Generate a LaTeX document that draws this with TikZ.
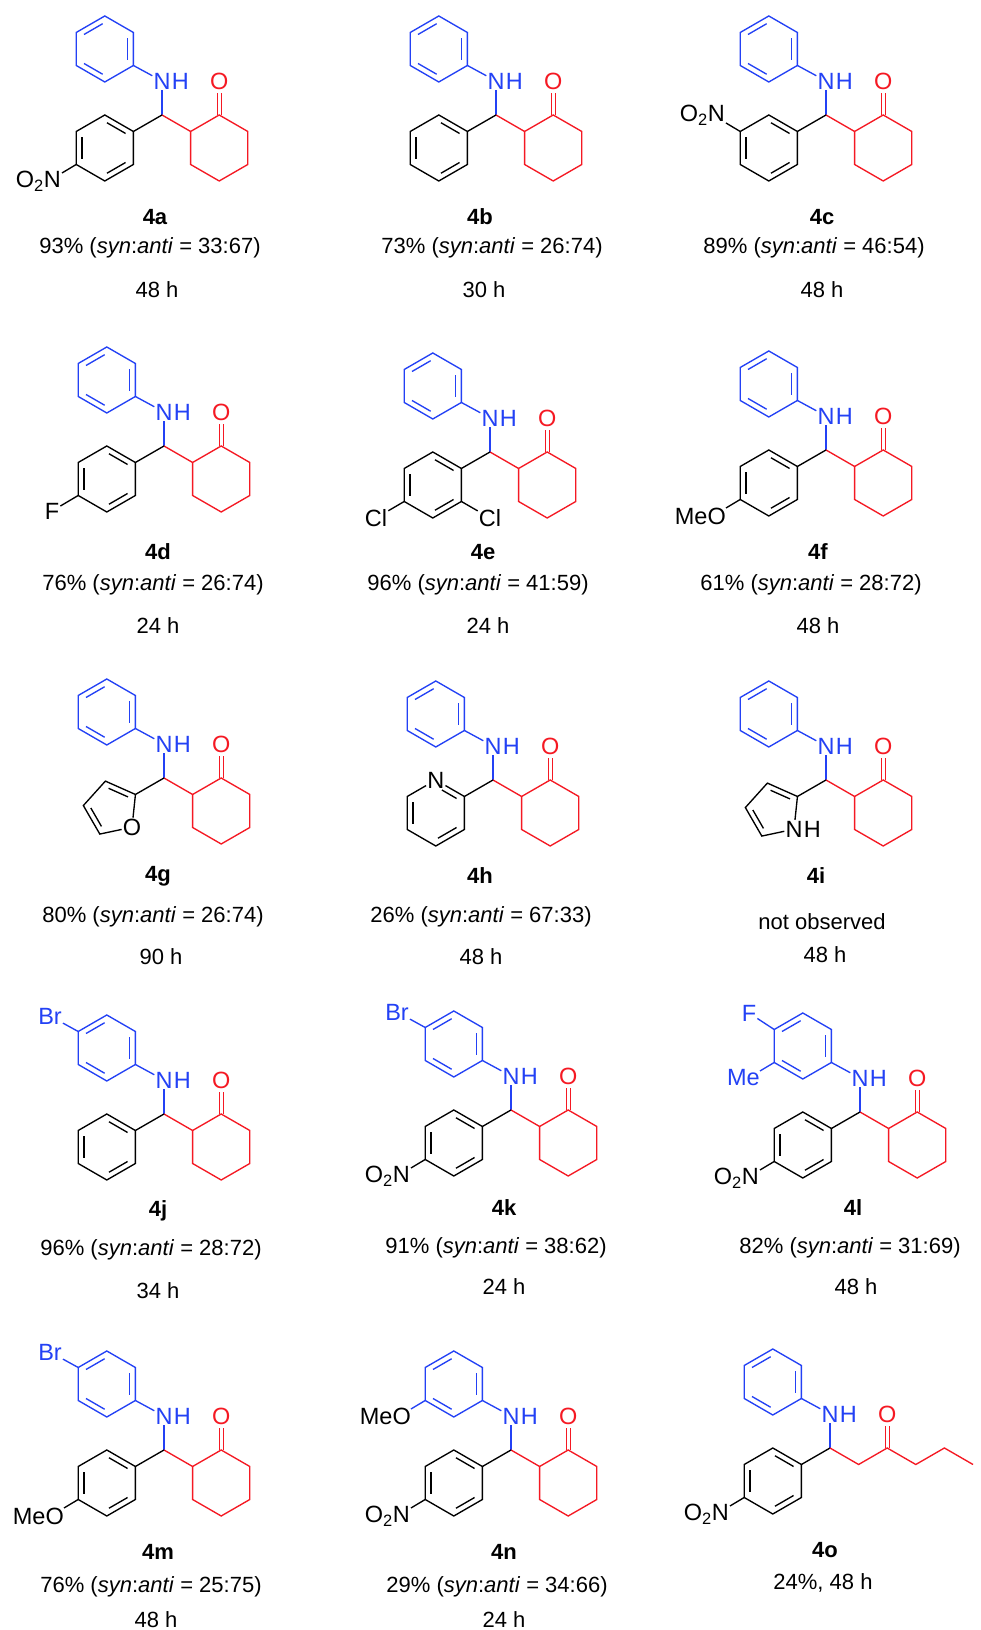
\documentclass[tikz,border=0pt]{standalone}
\usepackage{fontspec}
\setmainfont{Liberation Sans}
\usetikzlibrary{calc}
\definecolor{blu}{RGB}{35,65,245}
\definecolor{rd}{RGB}{245,25,35}
\tikzset{
 bond/.style={line width=1.35pt},
 atom/.style={font=\fontsize{23.5}{24}\selectfont,inner sep=1pt},
 txt/.style={font=\fontsize{22}{22}\selectfont,inner sep=0pt},
 lbl/.style={font=\fontsize{22}{22}\selectfont\bfseries,inner sep=0pt}
}
\newcommand\hexR[3]{%
 \begin{scope}[shift={#1}]
 \draw[bond,#2] (30:33)--(90:33)--(150:33)--(210:33)--(270:33)--(330:33)--cycle;
 \foreach \k in {#3}{\draw[bond,#2,shorten <=2.5pt,shorten >=2.5pt] ({30+60*\k}:26.5)--({90+60*\k}:26.5);}
 \end{scope}}
\newcommand\anil[1]{%
 \node[atom,text=blu] (#1N) at (0,34) {N};
 \node[atom,text=blu,anchor=west,inner sep=0pt] (#1H) at (#1N.east) {H};
 \draw[bond,blu] (0,0)--(#1N);
 \draw[bond,blu] (#1N)--(-28.6,49.5);
 \hexR{(-57.2,66)}{blu}{1,3,5}}
\newcommand\ketone[1]{%
 \draw[bond,rd] (0,0)--(28.6,-16.5);
 \draw[bond,rd] (57.2,0)--(85.8,-16.5)--(85.8,-49.5)--(57.2,-66)--(28.6,-49.5)--(28.6,-16.5)--cycle;
 \node[atom,text=rd] (#1O) at (57.2,34) {O};
 \draw[bond,rd] (55.2,0)--(55.2,21.5) (59.2,0)--(59.2,21.5);}
\newcommand\aryl{%
 \draw[bond] (0,0)--(-28.6,-16.5);
 \hexR{(-57.2,-33)}{black}{0,2,4}}
\newcommand\pnitro[1]{%
 \node[atom,anchor=east] (#1NO) at (-100,-66) {O\textsubscript{2}N};
 \draw[bond] (-85.8,-49.5)--(-100,-58);}
\newcommand\pbr[1]{%
 \node[atom,text=blu] (#1Br) at (-114,98) {Br};
 \draw[bond,blu] (-85.8,82.5)--(#1Br);}
\begin{document}
\begin{tikzpicture}[x=1pt,y=1pt]
\useasboundingbox (0,0) rectangle (980,1630);
\fill[white] (0,0) rectangle (980,1630);
% 4a
\begin{scope}[shift={(162,1515)}]
 \anil{a}\ketone{a}\aryl\pnitro{a}
\end{scope}
% 4b
\begin{scope}[shift={(496,1515)}]
 \anil{b}\ketone{b}\aryl
\end{scope}
% 4c
\begin{scope}[shift={(826,1515)}]
 \anil{c}\ketone{c}\aryl
 \node[atom,anchor=east] (cNO) at (-100,0) {O\textsubscript{2}N};
 \draw[bond] (-85.8,-16.5)--(-100,-8);
\end{scope}
% 4d
\begin{scope}[shift={(164,1184)}]
 \anil{d}\ketone{d}\aryl
 \node[atom] (dF) at (-112,-65) {F};
 \draw[bond] (-85.8,-49.5)--(dF);
\end{scope}
% 4e
\begin{scope}[shift={(490,1178)}]
 \anil{e}\ketone{e}\aryl
 \node[atom] (eCla) at (-114,-66) {Cl};
 \draw[bond] (-85.8,-49.5)--(eCla);
 \node[atom] (eClb) at (0,-66) {Cl};
 \draw[bond] (-28.6,-49.5)--(eClb);
\end{scope}
% 4f
\begin{scope}[shift={(826,1180)}]
 \anil{f}\ketone{f}\aryl
 \node[atom,anchor=east] (fOMe) at (-99,-66) {MeO};
 \draw[bond] (-85.8,-49.5)--(-100,-58);
\end{scope}
% 4g furan
\begin{scope}[shift={(164,852)}]
 \anil{g}\ketone{g}
 \draw[bond] (0,0)--(-28.6,-16.5);
 \begin{scope}[shift={(-52.8,-30.5)}]
  \node[atom] (gO) at (318:28) {O};
  \draw[bond] (gO)--(30:28)--(102:28)--(174:28)--(246:28)--(gO);
  \draw[bond,shorten <=2pt,shorten >=2pt] (30:21.5)--(102:21.5);
  \draw[bond,shorten <=2pt,shorten >=2pt] (174:21.5)--(246:21.5);
 \end{scope}
\end{scope}
% 4h pyridine
\begin{scope}[shift={(493,850)}]
 \anil{h}\ketone{h}
 \draw[bond] (0,0)--(-28.6,-16.5);
 \begin{scope}[shift={(-57.2,-33)}]
  \node[atom] (hNp) at (90:33) {N};
  \draw[bond] (hNp)--(30:33)--(330:33)--(270:33)--(210:33)--(150:33)--(hNp);
  \draw[bond,shorten <=2.5pt,shorten >=7pt] (30:26.5)--(90:26.5);
  \draw[bond,shorten <=2.5pt,shorten >=2.5pt] (150:26.5)--(210:26.5);
  \draw[bond,shorten <=2.5pt,shorten >=2.5pt] (270:26.5)--(330:26.5);
 \end{scope}
\end{scope}
% 4i pyrrole
\begin{scope}[shift={(826,850)}]
 \anil{i}\ketone{i}
 \draw[bond] (0,0)--(-28.6,-16.5);
 \begin{scope}[shift={(-52.8,-30.5)}]
  \node[atom] (iNp) at (318:28) {N};
  \node[atom,anchor=west,inner sep=0pt] (iHp) at (iNp.east) {H};
  \draw[bond] (iNp)--(30:28)--(102:28)--(174:28)--(246:28)--(iNp);
  \draw[bond,shorten <=2pt,shorten >=2pt] (30:21.5)--(102:21.5);
  \draw[bond,shorten <=2pt,shorten >=2pt] (174:21.5)--(246:21.5);
 \end{scope}
\end{scope}
% 4j
\begin{scope}[shift={(164,516)}]
 \anil{j}\ketone{j}\aryl\pbr{j}
\end{scope}
% 4k
\begin{scope}[shift={(511,520)}]
 \anil{k}\ketone{k}\aryl\pbr{k}\pnitro{k}
\end{scope}
% 4l
\begin{scope}[shift={(860,518)}]
 \anil{l}\ketone{l}\aryl\pnitro{l}
 \node[atom,text=blu] (lF) at (-111,99) {F};
 \draw[bond,blu] (-85.8,82.5)--(lF);
 \node[atom,text=blu,anchor=east] (lMe) at (-99,34) {Me};
 \draw[bond,blu] (-85.8,49.5)--(-100,41);
\end{scope}
% 4m
\begin{scope}[shift={(164,180)}]
 \anil{m}\ketone{m}\aryl\pbr{m}
 \node[atom,anchor=east] (mOMe) at (-99,-66) {MeO};
 \draw[bond] (-85.8,-49.5)--(-100,-58);
\end{scope}
% 4n
\begin{scope}[shift={(511,180)}]
 \anil{n}\ketone{n}\aryl\pnitro{n}
 \node[atom,anchor=east] (nOMe) at (-99,34) {MeO};
 \draw[bond,blu] (-85.8,49.5)--(-100,41);
\end{scope}
% 4o
\begin{scope}[shift={(830,182)}]
 \anil{o}\aryl\pnitro{o}
 \draw[bond,rd] (0,0)--(28.6,-16.5)--(57.2,0)--(85.8,-16.5)--(114.4,0)--(143,-16.5);
 \node[atom,text=rd] (oO) at (57.2,34) {O};
 \draw[bond,rd] (55.2,0)--(55.2,21.5) (59.2,0)--(59.2,21.5);
\end{scope}
% texts
\node[lbl] (la) at (155,1413) {4a};
\node[txt] (ya) at (150,1382) {93\% (\textit{syn}:\textit{anti} = 33:67)};
\node[txt] (ta) at (157,1340) {48 h};
\node[lbl] (lb) at (480,1413) {4b};
\node[txt] (yb) at (492,1382) {73\% (\textit{syn}:\textit{anti} = 26:74)};
\node[txt] (tb) at (484,1340) {30 h};
\node[lbl] (lc) at (822,1413) {4c};
\node[txt] (yc) at (814,1382) {89\% (\textit{syn}:\textit{anti} = 46:54)};
\node[txt] (tc) at (822,1340) {48 h};
\node[lbl] (ld) at (158,1078) {4d};
\node[txt] (yd) at (153,1045) {76\% (\textit{syn}:\textit{anti} = 26:74)};
\node[txt] (td) at (158,1004) {24 h};
\node[lbl] (le) at (483,1078) {4e};
\node[txt] (ye) at (478,1045) {96\% (\textit{syn}:\textit{anti} = 41:59)};
\node[txt] (te) at (488,1004) {24 h};
\node[lbl] (lf) at (818,1078) {4f};
\node[txt] (yf) at (811,1045) {61\% (\textit{syn}:\textit{anti} = 28:72)};
\node[txt] (tf) at (818,1004) {48 h};
\node[lbl] (lg) at (158,754) {4g};
\node[txt] (yg) at (153,713) {80\% (\textit{syn}:\textit{anti} = 26:74)};
\node[txt] (tg) at (161,673) {90 h};
\node[lbl] (lh) at (480,754) {4h};
\node[txt] (yh) at (481,713) {26\% (\textit{syn}:\textit{anti} = 67:33)};
\node[txt] (th) at (481,673) {48 h};
\node[lbl] (li) at (816,754) {4i};
\node[txt] (yi) at (822,708) {not observed};
\node[txt] (ti) at (825,675) {48 h};
\node[lbl] (lj) at (158,419) {4j};
\node[txt] (yj) at (151,380) {96\% (\textit{syn}:\textit{anti} = 28:72)};
\node[txt] (tj) at (158,339) {34 h};
\node[lbl] (lk) at (504,422) {4k};
\node[txt] (yk) at (496,382) {91\% (\textit{syn}:\textit{anti} = 38:62)};
\node[txt] (tk) at (504,343) {24 h};
\node[lbl] (ll) at (853,422) {4l};
\node[txt] (yl) at (850,382) {82\% (\textit{syn}:\textit{anti} = 31:69)};
\node[txt] (tl) at (856,343) {48 h};
\node[lbl] (lm) at (158,78) {4m};
\node[txt] (ym) at (151,43) {76\% (\textit{syn}:\textit{anti} = 25:75)};
\node[txt] (tm) at (156,10) {48 h};
\node[lbl] (ln) at (504,78) {4n};
\node[txt] (yn) at (497,43) {29\% (\textit{syn}:\textit{anti} = 34:66)};
\node[txt] (tn) at (504,10) {24 h};
\node[lbl] (lo) at (825,80) {4o};
\node[txt] (yo) at (823,47) {24\%, 48 h};
\end{tikzpicture}
\end{document}
